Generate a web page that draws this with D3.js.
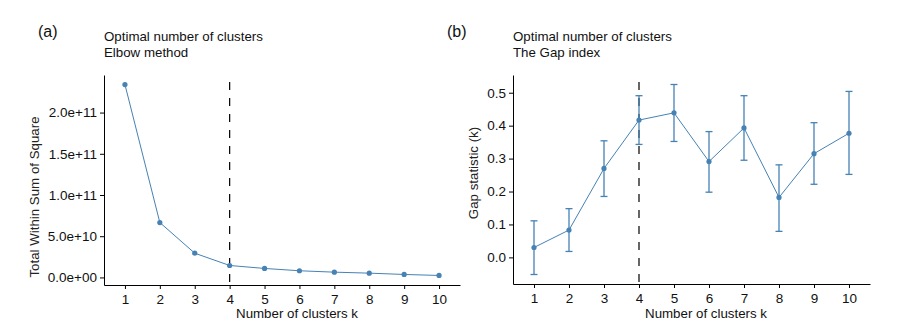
<!DOCTYPE html>
<html>
<head>
<meta charset="utf-8">
<script src="https://cdn.jsdelivr.net/npm/d3@7"></script>
<style>
  body { margin: 0; background: #fff; }
  svg { font-family: "Liberation Sans", Arial, sans-serif; }
  .axis text { font-size: 13.5px; fill: #111; }
  .axis path, .axis line { stroke: #000; stroke-width: 1; }
</style>
</head>
<body>
<div id="chart"></div>
<script>
// data
const ks = [1, 2, 3, 4, 5, 6, 7, 8, 9, 10];
const wss = [2.34e11, 6.66e10, 2.94e10, 1.45e10, 1.09e10, 8.1e9, 6.4e9, 5.2e9, 3.6e9, 2.4e9];
const gap = [0.030, 0.083, 0.270, 0.417, 0.439, 0.291, 0.393, 0.182, 0.315, 0.377];
const gapLo = [-0.052, 0.018, 0.185, 0.343, 0.352, 0.198, 0.295, 0.079, 0.222, 0.252];
const gapHi = [0.111, 0.148, 0.354, 0.491, 0.525, 0.382, 0.491, 0.281, 0.409, 0.504];
const wssTicks = [0, 5e10, 1e11, 1.5e11, 2e11];
const gapTicks = [0, 0.1, 0.2, 0.3, 0.4, 0.5];
const bestK = 4;

const width = 911, height = 327;
const col = "steelblue";

const svg = d3.select("#chart")
    .append("svg")
    .attr("width", width)
    .attr("height", height);

// ggplot style 5% expansion
function expand(lo, hi) {
    const d = (hi - lo) * 0.05;
    return [lo - d, hi + d];
}

// 2.0e+11 style labels
function sci(v) {
    if (v === 0) return "0.0e+00";
    const e = Math.floor(Math.log10(Math.abs(v)) + 1e-9);
    const m = v / Math.pow(10, e);
    return m.toFixed(1) + "e+" + String(e).padStart(2, "0");
}

function panel(opt) {
    const x = d3.scaleLinear().domain([0.4, 10.6]).range([opt.left, opt.right]);
    const y = d3.scaleLinear().domain(opt.ydom).range([opt.bottom, opt.top]);
    const g = svg.append("g");

    g.append("g")
        .attr("class", "axis")
        .attr("transform", `translate(0,${opt.bottom})`)
        .call(d3.axisBottom(x).tickValues(ks).tickFormat(d3.format("d")).tickSize(4).tickSizeOuter(0).tickPadding(5));

    g.append("g")
        .attr("class", "axis")
        .attr("transform", `translate(${opt.left},0)`)
        .call(d3.axisLeft(y).tickValues(opt.ticks).tickFormat(opt.fmt).tickSize(4).tickSizeOuter(0).tickPadding(3));

    // dashed line at best k
    g.append("line")
        .attr("x1", x(bestK)).attr("x2", x(bestK))
        .attr("y1", opt.top).attr("y2", opt.bottom)
        .attr("stroke", "#000")
        .attr("stroke-width", 1.2)
        .attr("stroke-dasharray", "8,8")
        .attr("stroke-dashoffset", 9);

    if (opt.lo) {
        const eb = g.append("g").attr("stroke", col).attr("stroke-width", 1.3);
        ks.forEach((k, i) => {
            eb.append("line").attr("x1", x(k)).attr("x2", x(k)).attr("y1", y(opt.lo[i])).attr("y2", y(opt.hi[i]));
            eb.append("line").attr("x1", x(k - 0.1)).attr("x2", x(k + 0.1)).attr("y1", y(opt.lo[i])).attr("y2", y(opt.lo[i]));
            eb.append("line").attr("x1", x(k - 0.1)).attr("x2", x(k + 0.1)).attr("y1", y(opt.hi[i])).attr("y2", y(opt.hi[i]));
        });
    }

    const line = d3.line().x((d, i) => x(ks[i])).y(d => y(d));
    g.append("path")
        .datum(opt.vals)
        .attr("d", line)
        .attr("fill", "none")
        .attr("stroke", col)
        .attr("stroke-width", 1);

    g.selectAll(".pt")
        .data(opt.vals)
        .enter()
        .append("circle")
        .attr("cx", (d, i) => x(ks[i]))
        .attr("cy", d => y(d))
        .attr("r", 2.6)
        .attr("fill", col);

    // titles
    g.append("text").attr("x", opt.tagX).attr("y", 37).attr("font-size", 16).attr("fill", "#111").text(opt.tag);
    g.append("text").attr("x", opt.left).attr("y", 41).attr("font-size", 13.3).attr("fill", "#111").text("Optimal number of clusters");
    g.append("text").attr("x", opt.left).attr("y", 57).attr("font-size", 13.3).attr("fill", "#111").text(opt.sub);

    g.append("text")
        .attr("x", opt.xlabX).attr("y", 318)
        .attr("text-anchor", "middle")
        .attr("font-size", 13.3).attr("fill", "#111")
        .text("Number of clusters k");

    g.append("text")
        .attr("transform", `translate(${opt.ylabX},${opt.ylabY}) rotate(-90)`)
        .attr("text-anchor", "middle")
        .attr("font-size", 13.3).attr("fill", "#222")
        .text(opt.ylab);
}

panel({
    left: 104, right: 460, top: 75, bottom: 285,
    ydom: expand(d3.min(wss), d3.max(wss)),
    ticks: wssTicks, fmt: sci, vals: wss,
    tag: "(a)", tagX: 38, sub: "Elbow method",
    xlabX: 297, ylabX: 39, ylabY: 197,
    ylab: "Total Within Sum of Square"
});

panel({
    left: 513, right: 870, top: 75, bottom: 284,
    ydom: expand(d3.min(gapLo), d3.max(gapHi)),
    ticks: gapTicks, fmt: d3.format(".1f"), vals: gap,
    lo: gapLo, hi: gapHi,
    tag: "(b)", tagX: 447, sub: "The Gap index",
    xlabX: 706, ylabX: 478, ylabY: 173,
    ylab: "Gap statistic (k)"
});
</script>
</body>
</html>
